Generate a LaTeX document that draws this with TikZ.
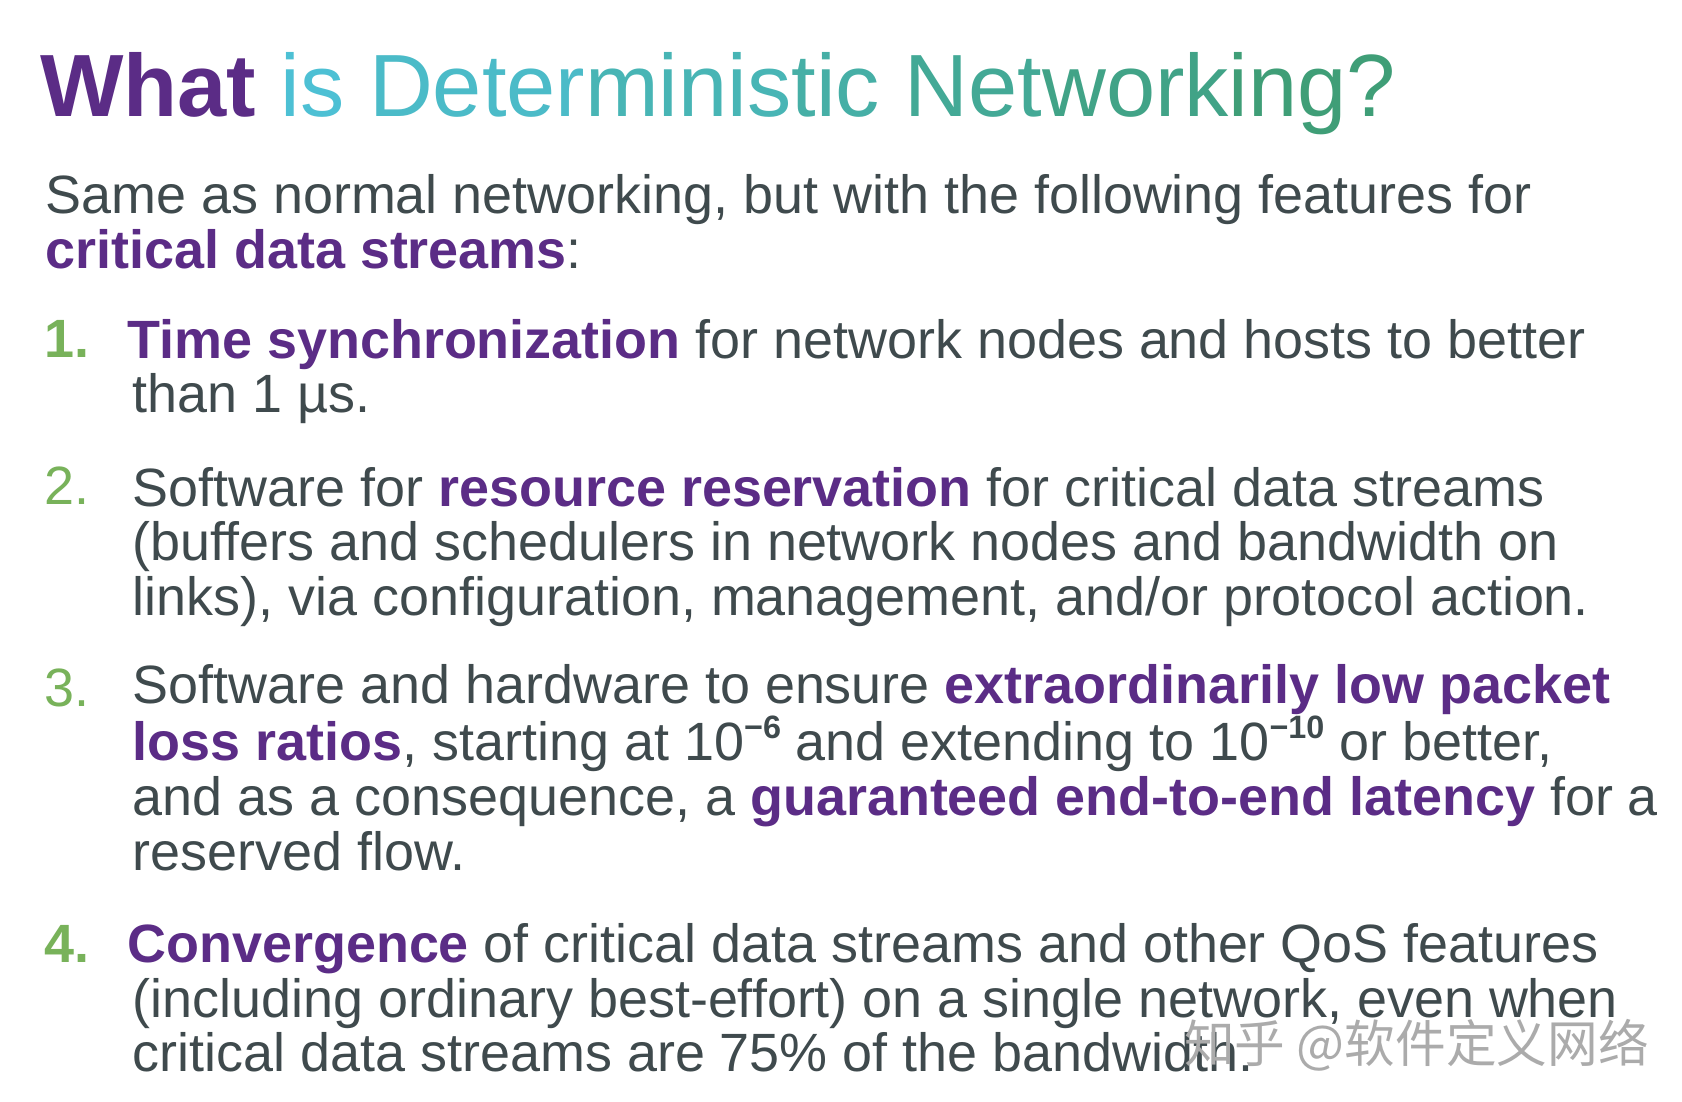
\documentclass[tikz,border=0pt]{standalone}
\usepackage{fontspec}
\setmainfont{Liberation Sans}
\newfontfamily\cjkfont{Noto Sans CJK SC}
\usepackage{tikz}
\usetikzlibrary{positioning}
\definecolor{dnpurple}{HTML}{5B2C86}
\definecolor{dngreen}{HTML}{78B25A}
\definecolor{dngray}{HTML}{3F4A4D}
\definecolor{dncyan}{HTML}{4DC0D4}
\definecolor{dnteal}{HTML}{3D9A6D}
\def\hl#1{\textbf{\color{dnpurple}#1}}
\def\gw#1#2{{\color{dnteal!#1!dncyan}#2}}
\def\expo#1{\raisebox{21pt}{\fontsize{30}{30}\selectfont\bfseries #1}}

% multi-line nodes sit on the baseline of their last line
\tikzset{
	body/.style={anchor=base west, inner sep=0pt, align=left, text=dngray, font=\fontsize{50}{50.7}\selectfont},
	num/.style={anchor=base west, inner sep=0pt, text=dngreen, font=\fontsize{50}{50.7}\selectfont},
}

\begin{document}
\begin{tikzpicture}[x=1pt, y=-1pt]
		%%%%% START %%%%%
		\fill[white] (0, 0) rectangle (1560, 1022);
		\useasboundingbox (0, 0) rectangle (1560, 1022);
		
		\node[anchor=base west, inner sep=0pt, font=\fontsize{82}{82}\selectfont] (title) at (37, 108)
			{\textbf{\color{dnpurple}What} \gw{0}{is} \gw{12}{Deter}\gw{30}{minis}\gw{45}{tic} \gw{60}{Net}\gw{75}{work}\gw{90}{ing?}};
		
		\node[body] (intro) at (42, 249) {Same as normal networking, but with the following features for\\
			\hl{critical data streams}:};
		
		\node[num] (n1) at (41, 332) {\textbf{1.}};
		\node[body] (item1) at (123, 383) {\hspace{-5pt}\hl{Time synchronization} for network nodes and hosts to better\\
			than 1 µs.};
		
		\node[num] (n2) at (41, 468) {2.};
		\node[body] (item2) at (123, 571) {Software for \hl{resource reservation} for critical data streams\\
			(buffers and schedulers in network nodes and bandwidth on\\
			links), via configuration, management, and/or protocol action.};
		
		\node[num] (n3) at (41, 655) {3.};
		\node[body] (item3) at (123, 807) {Software and hardware to ensure \hl{extraordinarily low packet}\\
			\hl{loss ratios}, starting at 10\expo{−6} and extending to 10\expo{−10} or better,\\
			and as a consequence, a \hl{guaranteed end-to-end latency} for a\\
			reserved flow.};
		
		\node[num] (n4) at (41, 893) {\textbf{4.}};
		\node[body] (item4) at (123, 994) {\hspace{-5pt}\hl{Convergence} of critical data streams and other QoS features\\
			(including ordinary best-effort) on a single network, even when\\
			critical data streams are 75\% of the bandwidth.};
		
		\node[anchor=base west, inner sep=0pt, text=black!33, font=\cjkfont\fontsize{47}{47}\selectfont] (mark) at (1098, 985) {知乎 @软件定义网络};
		%%%%% END %%%%%
\end{tikzpicture}
\end{document}
